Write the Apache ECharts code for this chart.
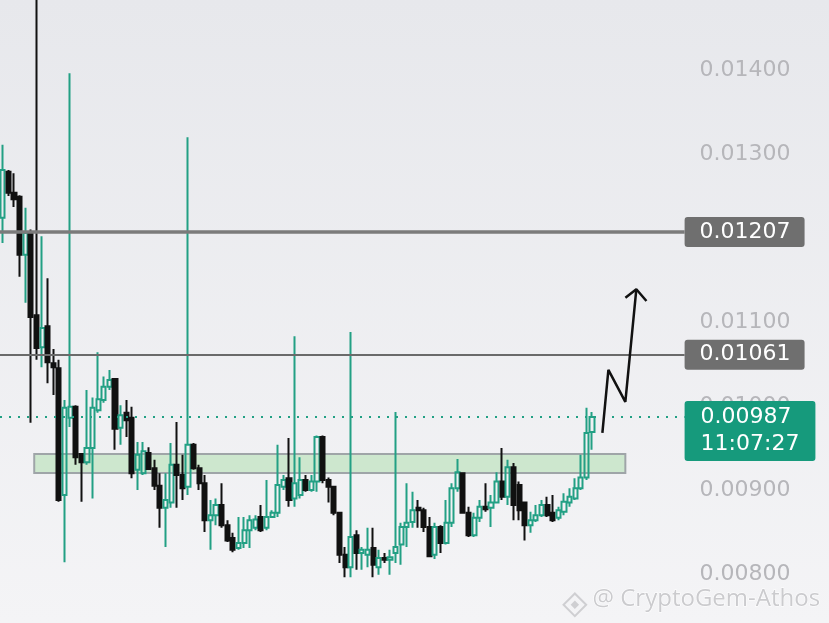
<!DOCTYPE html>
<html>
<head>
<meta charset="utf-8">
<script src="https://cdn.jsdelivr.net/npm/echarts@6/dist/echarts.min.js"></script>
<style>
html,body{margin:0;padding:0;}
#c{width:829px;height:623px;background:linear-gradient(#e7e8ec,#f4f4f6);}
</style>
</head>
<body>
<div id="c"></div>
<script>
// OHLC candles: [open, close, low, high]
const candles = [
[0.01224,0.01281,0.01194,0.01311],[0.01279,0.01254,0.01250,0.01281],[0.01254,0.01246,0.01237,0.01277],
[0.01249,0.01180,0.01154,0.01251],[0.01180,0.01206,0.01123,0.01236],[0.01207,0.01106,0.00980,0.01210],
[0.01108,0.01069,0.01055,0.01520],[0.01070,0.01093,0.01046,0.01202],[0.01095,0.01052,0.01027,0.01152],
[0.01051,0.01046,0.01013,0.01068],[0.01045,0.00888,0.00886,0.01055],[0.00894,0.00998,0.00814,0.01007],
[0.00986,0.00999,0.00975,0.01396],[0.00999,0.00939,0.00930,0.01001],[0.00943,0.00933,0.00886,0.00944],
[0.00933,0.00950,0.00930,0.01019],[0.00950,0.00998,0.00890,0.01010],[0.00995,0.01008,0.00992,0.01064],
[0.01007,0.01023,0.01004,0.01035],[0.01023,0.01031,0.01019,0.01043],[0.01032,0.00973,0.00948,0.01033],
[0.00974,0.00989,0.00954,0.01001],[0.00992,0.00983,0.00963,0.01007],[0.00986,0.00920,0.00914,0.00999],
[0.00924,0.00942,0.00900,0.00957],[0.00920,0.00946,0.00918,0.00957],[0.00944,0.00925,0.00924,0.00951],
[0.00926,0.00905,0.00900,0.00936],[0.00905,0.00879,0.00855,0.00920],[0.00879,0.00888,0.00832,0.00920],
[0.00885,0.00930,0.00879,0.00956],[0.00930,0.00918,0.00879,0.00981],[0.00918,0.00902,0.00888,0.00942],
[0.00904,0.00954,0.00894,0.01320],[0.00954,0.00926,0.00924,0.00956],[0.00926,0.00908,0.00900,0.00930],
[0.00908,0.00864,0.00850,0.00918],[0.00864,0.00870,0.00829,0.00888],[0.00870,0.00882,0.00858,0.00890],
[0.00882,0.00858,0.00855,0.00908],[0.00858,0.00840,0.00838,0.00864],[0.00843,0.00829,0.00826,0.00849],
[0.00831,0.00837,0.00829,0.00868],[0.00837,0.00852,0.00831,0.00868],[0.00852,0.00864,0.00831,0.00870],
[0.00855,0.00865,0.00852,0.00870],[0.00868,0.00852,0.00850,0.00882],[0.00855,0.00868,0.00852,0.00912],
[0.00868,0.00873,0.00867,0.00876],[0.00873,0.00906,0.00868,0.00954],[0.00904,0.00912,0.00900,0.00918],
[0.00914,0.00888,0.00880,0.00962],[0.00890,0.00908,0.00880,0.01083],[0.00894,0.00912,0.00890,0.00939],
[0.00912,0.00900,0.00898,0.00918],[0.00900,0.00910,0.00898,0.00918],[0.00910,0.00963,0.00898,0.00965],
[0.00963,0.00912,0.00908,0.00965],[0.00912,0.00904,0.00885,0.00915],[0.00904,0.00873,0.00870,0.00905],
[0.00873,0.00823,0.00813,0.00873],[0.00823,0.00808,0.00796,0.00832],[0.00808,0.00844,0.00796,0.01088],
[0.00846,0.00825,0.00805,0.00852],[0.00825,0.00829,0.00805,0.00832],[0.00823,0.00829,0.00808,0.00855],
[0.00831,0.00811,0.00796,0.00855],[0.00808,0.00819,0.00799,0.00829],[0.00819,0.00817,0.00813,0.00825],
[0.00817,0.00820,0.00799,0.00829],[0.00825,0.00832,0.00813,0.00993],[0.00835,0.00856,0.00811,0.00861],
[0.00856,0.00861,0.00832,0.00908],[0.00862,0.00876,0.00855,0.00898],[0.00879,0.00876,0.00855,0.00888],
[0.00876,0.00856,0.00850,0.00879],[0.00856,0.00821,0.00820,0.00868],[0.00823,0.00856,0.00818,0.00861],
[0.00856,0.00837,0.00825,0.00858],[0.00837,0.00861,0.00835,0.00888],[0.00861,0.00902,0.00856,0.00908],
[0.00902,0.00921,0.00898,0.00937],[0.00920,0.00873,0.00872,0.00921],[0.00873,0.00846,0.00844,0.00880],
[0.00846,0.00867,0.00844,0.00873],[0.00867,0.00880,0.00862,0.00888],[0.00880,0.00877,0.00874,0.00908],
[0.00879,0.00885,0.00856,0.00894],[0.00885,0.00910,0.00884,0.00921],[0.00910,0.00892,0.00888,0.00950],
[0.00892,0.00927,0.00882,0.00936],[0.00927,0.00882,0.00864,0.00932],[0.00906,0.00876,0.00864,0.00910],
[0.00885,0.00858,0.00840,0.00885],[0.00858,0.00864,0.00849,0.00874],[0.00864,0.00870,0.00862,0.00882],
[0.00870,0.00882,0.00868,0.00888],[0.00882,0.00870,0.00868,0.00892],[0.00873,0.00864,0.00862,0.00894],
[0.00867,0.00876,0.00864,0.00880],[0.00874,0.00886,0.00870,0.00896],[0.00885,0.00892,0.00880,0.00902],
[0.00890,0.00902,0.00888,0.00914],[0.00902,0.00915,0.00900,0.00942],[0.00915,0.00968,0.00912,0.00998],
[0.00969,0.00987,0.00948,0.00993]
];
const slotCount = 122; // candles plus empty space to the right
const categories = Array.from({length: slotCount}, (_, i) => String(i + 1));

const resistanceLevels = [0.01207, 0.01061];
const lastPrice = 0.00987;
const countdown = '11:07:27';
const zoneLow = 0.009202, zoneHigh = 0.009429;
const zoneStart = 5.6, zoneEnd = 110.94;

const arrowX = [106.85, 107.92, 110.94, 112.9];
const arrowY = [0.00968, 0.01043, 0.01005, 0.01139];
const arrowHeadX = [110.95, 112.9, 114.7];
const arrowHeadY = [0.01129, 0.01139, 0.01125];

const yMin = 0.0074167, yMax = 0.0148333;
const teal = '#22a084';
const font = 'DejaVu Sans';

const chart = echarts.init(document.getElementById('c'), null, {renderer: 'canvas'});

const boxLabel = (bg, txt) => ({
  show: true, position: 'end', distance: 0,
  color: '#ffffff', backgroundColor: bg, borderRadius: 3,
  fontFamily: font, fontSize: 22, padding: [4, 14, 4, 15],
  formatter: txt
});

chart.setOption({
  animation: false,
  backgroundColor: 'transparent',
  grid: {left: -1.3, right: 144.4, top: 0, bottom: 0},
  xAxis: [
    {type: 'category', data: categories, show: false, boundaryGap: true},
    {type: 'value', min: -0.5, max: slotCount - 0.5, show: false}
  ],
  yAxis: {
    type: 'value', position: 'right', min: yMin, max: yMax,
    minInterval: 0.001, maxInterval: 0.001, scale: true,
    axisLine: {show: false}, axisTick: {show: false}, splitLine: {show: false},
    axisLabel: {
      showMinLabel: false, showMaxLabel: false, margin: 15,
      color: '#b6b6ba', fontFamily: font, fontSize: 22,
      formatter: v => v.toFixed(5)
    }
  },
  series: [
    {
      type: 'line', xAxisIndex: 1, data: [], z: 1, silent: true,
      markArea: {
        silent: true,
        itemStyle: {color: 'rgba(190,226,190,0.7)', borderColor: '#9fa5a8', borderWidth: 2},
        data: [[{xAxis: zoneStart, yAxis: zoneHigh}, {xAxis: zoneEnd, yAxis: zoneLow}]]
      }
    },
    {
      type: 'candlestick', data: candles, barWidth: '82%', z: 2,
      itemStyle: {
        color: 'rgba(0,0,0,0)', color0: '#111111',
        borderColor: teal, borderColor0: '#111111', borderWidth: 2
      }
    },
    {
      type: 'line', xAxisIndex: 1, data: [], z: 3, silent: true,
      markLine: {
        silent: true, symbol: ['none', 'none'], animation: false, precision: 6,
        data: [
          {yAxis: resistanceLevels[0], lineStyle: {color: '#7b7b7b', width: 3.5, type: 'solid'},
           label: boxLabel('#6f6f6f', resistanceLevels[0].toFixed(5))},
          {yAxis: resistanceLevels[1], lineStyle: {color: '#6a6a6a', width: 2, type: 'solid'},
           label: boxLabel('#6f6f6f', resistanceLevels[1].toFixed(5))},
          {yAxis: lastPrice, lineStyle: {color: teal, width: 2, type: [2, 7]},
           label: Object.assign(boxLabel('#169a7c', lastPrice.toFixed(5) + '\n' + countdown), {
             lineHeight: 27, padding: [3, 16, 3, 16], offset: [0, 14]
           })}
        ]
      }
    },
    {
      type: 'line', xAxisIndex: 1, z: 5, silent: true, showSymbol: false,
      lineStyle: {color: '#111', width: 2.5},
      data: arrowX.map((x, i) => [x, arrowY[i]])
    },
    {
      type: 'line', xAxisIndex: 1, z: 5, silent: true, showSymbol: false,
      lineStyle: {color: '#111', width: 2.5},
      data: arrowHeadX.map((x, i) => [x, arrowHeadY[i]])
    }
  ],
  graphic: [
    {
      type: 'group', left: 560, top: 590,
      children: [
        {type: 'rect', shape: {x: -8, y: -8, width: 16, height: 16}, rotation: Math.PI / 4, x: 13, y: 12,
         style: {fill: 'none', stroke: '#cfcfd2', lineWidth: 2}},
        {type: 'rect', shape: {x: -3, y: -3, width: 6, height: 6}, rotation: Math.PI / 4, x: 13, y: 12,
         style: {fill: '#cfcfd2'}}
      ]
    },
    {
      type: 'text', left: 592, top: 587,
      style: {text: '@ CryptoGem-Athos', fill: '#cbcbce', stroke: '#ffffff', lineWidth: 1,
              font: '24px "Open Sans"'}
    }
  ]
});
</script>
</body>
</html>
